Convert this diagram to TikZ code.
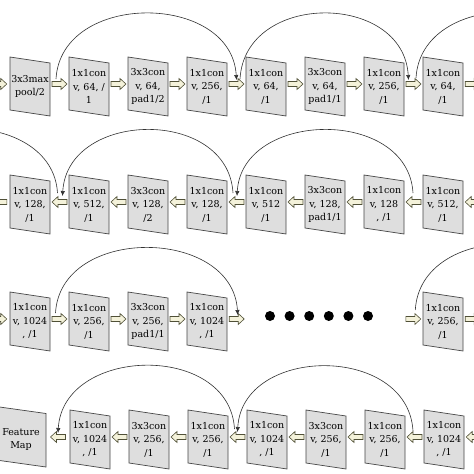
\documentclass[tikz,border=0pt]{standalone}
\usepackage{fontspec}
\setmainfont{DejaVu Serif}
\usetikzlibrary{calc,arrows.meta}
\definecolor{boxfill}{RGB}{222,222,222}
\definecolor{boxline}{RGB}{70,70,70}
\definecolor{harrline}{RGB}{80,80,55}
\definecolor{harrfill}{RGB}{244,242,218}
\definecolor{arcline}{RGB}{50,50,50}
\tikzset{
  boxtxt/.style={align=center, font=\fontsize{9.5}{13.5}\selectfont, inner sep=0pt,
    minimum width=40pt, minimum height=59pt, text=black},
  pshape/.style={fill=boxfill, draw=boxline, line width=0.7pt},
  harrst/.style={draw=harrline, fill=harrfill, line width=0.6pt, line join=miter},
  skip/.style={draw=arcline, line width=0.6pt, -{Latex[length=5pt,width=4.5pt]}},
  skipopen/.style={draw=arcline, line width=0.6pt},
  bigdot/.style={circle, fill=black, inner sep=0pt, minimum size=10pt},
}
\newcommand\convbox[4]{%
  \draw[pshape] (#2,#3) -- ++(40,6) -- ++(0,53) -- ++(-40,-6) -- cycle;
  \node[boxtxt] (#1) at (#2+20,#3+29.5) {#4};
}
% hollow block arrow drawn at a named coordinate; #2 = 1 (right) or -1 (left)
\newcommand\hollow[2]{%
  \draw[harrst, shift={(#1)}, xscale=#2] (-7.5,-2.5) -- (1.5,-2.5) -- (1.5,-5.5)
    -- (7.5,0) -- (1.5,5.5) -- (1.5,2.5) -- (-7.5,2.5) -- cycle;
}
\begin{document}
\begin{tikzpicture}[x=1pt,y=-1pt]
\useasboundingbox (0,0) rectangle (474,474);
\clip (0,0) rectangle (474,474);
\fill[white] (0,0) rectangle (474,474);
% ---------- row 1 ----------
\convbox{b11}{10}{57}{3x3max\\pool/2}
\convbox{b12}{69}{57}{1x1con\\v, 64, /\\1}
\convbox{b13}{128}{57}{3x3con\\v, 64,\\pad1/2}
\convbox{b14}{187}{57}{1x1con\\v, 256,\\/1}
\convbox{b15}{246}{57}{1x1con\\v, 64,\\/1}
\convbox{b16}{305}{57}{3x3con\\v, 64,\\pad1/1}
\convbox{b17}{364}{57}{1x1con\\v, 256,\\/1}
\convbox{b18}{423}{57}{1x1con\\v, 64,\\/1}
\coordinate (a10) at ($(b11.west)+(-10.5,-2.5)$);
\foreach \i [evaluate=\i as \j using int(\i+1)] in {1,...,7}
  {\coordinate (a1\i) at ($(b1\i.east)!.5!(b1\j.west)+(0,-2.5)$);}
\coordinate (a18) at ($(b18.east)+(9.5,-2.5)$);
\foreach \i in {0,...,8} {\hollow{a1\i}{1}}
% ---------- row 2 ----------
\convbox{b21}{10}{175}{1x1con\\v, 128,\\/1}
\convbox{b22}{69}{175}{1x1con\\v, 512,\\/1}
\convbox{b23}{128}{175}{3x3con\\v, 128,\\/2}
\convbox{b24}{187}{175}{1x1con\\v, 128,\\/1}
\convbox{b25}{246}{175}{1x1con\\v, 512\\/1}
\convbox{b26}{305}{175}{3x3con\\v, 128,\\pad1/1}
\convbox{b27}{364}{175}{1x1con\\v, 128\\, /1}
\convbox{b28}{423}{175}{1x1con\\v, 512,\\/1}
\coordinate (a20) at ($(b21.west)+(-10.5,-2.5)$);
\foreach \i [evaluate=\i as \j using int(\i+1)] in {1,...,7}
  {\coordinate (a2\i) at ($(b2\i.east)!.5!(b2\j.west)+(0,-2.5)$);}
\coordinate (a28) at ($(b28.east)+(9.5,-2.5)$);
\foreach \i in {0,...,8} {\hollow{a2\i}{-1}}
% ---------- row 3 ----------
\convbox{b31}{10}{292}{1x1con\\v, 1024\\, /1}
\convbox{b32}{69}{292}{1x1con\\v, 256,\\/1}
\convbox{b33}{128}{292}{3x3con\\v, 256,\\pad1/1}
\convbox{b34}{187}{292}{1x1con\\v, 1024\\, /1}
\convbox{b38}{423}{292}{1x1con\\v, 256,\\/1}
\coordinate (a30) at ($(b31.west)+(-10.5,-2.5)$);
\foreach \i [evaluate=\i as \j using int(\i+1)] in {1,...,3}
  {\coordinate (a3\i) at ($(b3\i.east)!.5!(b3\j.west)+(0,-2.5)$);}
\coordinate (a34) at ($(b34.east)+(9.5,-2.5)$);
\coordinate (a37) at ($(b38.west)+(-9.5,-2.5)$);
\coordinate (a38) at ($(b38.east)+(9.5,-2.5)$);
\foreach \i in {0,1,2,3,4,7,8} {\hollow{a3\i}{1}}
\foreach \k in {0,...,5}
  {\node[bigdot] (d\k) at (270+19.6*\k,316) {};}
% ---------- row 4 ----------
\draw[pshape] (-4,406.5) -- (46,413.5) -- (46,467) -- (-4,460) -- cycle;
\node[boxtxt, minimum width=50pt] (fm) at (21,439.5) {Feature\\Map};
\convbox{b42}{70}{410}{1x1con\\v, 1024\\, /1}
\convbox{b43}{129}{410}{3x3con\\v, 256,\\/1}
\convbox{b44}{188}{410}{1x1con\\v, 256,\\/1}
\convbox{b45}{247}{410}{1x1con\\v, 1024\\, /1}
\convbox{b46}{306}{410}{3x3con\\v, 256,\\/1}
\convbox{b47}{365}{410}{1x1con\\v, 256,\\/1}
\convbox{b48}{424}{410}{1x1con\\v, 1024\\, /1}
\coordinate (a41) at ($(fm.east)!.5!(b42.west)+(0,-2.5)$);
\foreach \i [evaluate=\i as \j using int(\i+1)] in {2,...,7}
  {\coordinate (a4\i) at ($(b4\i.east)!.5!(b4\j.west)+(0,-2.5)$);}
\coordinate (a48) at ($(b48.east)+(9.5,-2.5)$);
\foreach \i in {1,...,8} {\hollow{a4\i}{-1}}
% ---------- skip arcs ----------
\coordinate (off1) at ($(a17)+(182.5,-6)$);
\coordinate (off2) at ($(a21)+(-182,-9)$);
\coordinate (off3) at ($(a37)+(182,-9)$);
\draw[skip] ($(a11)+(-3.5,-5)$) .. controls +(5,-88) and +(-5,-88) .. ($(a14)+(0,-4)$);
\draw[skip] ($(a14)+(3.5,-5)$) .. controls +(5,-88) and +(-5,-88) .. ($(a17)+(-5,-4)$);
\draw[skipopen] ($(a17)+(2.5,-6)$) .. controls +(5,-88) and +(-5,-88) .. (off1);
\draw[skip] ($(a27)+(-0.5,-9)$) .. controls +(-5,-86) and +(5,-86) .. ($(a24)+(0.5,-6)$);
\draw[skip] ($(a24)+(-3.5,-9)$) .. controls +(-5,-86) and +(5,-86) .. ($(a21)+(3,-6)$);
\draw[skipopen] ($(a21)+(-2,-9)$) .. controls +(-5,-86) and +(5,-86) .. (off2);
\draw[skip] ($(a31)+(-4,-6)$) .. controls +(5,-88) and +(-5,-88) .. ($(a34)+(1,-4)$);
\draw[skipopen] ($(a37)+(2,-9)$) .. controls +(5,-88) and +(-5,-88) .. (off3);
\draw[skip] ($(a47)+(-1.5,-6)$) .. controls +(-5,-87) and +(5,-87) .. ($(a44)+(0,-5)$);
\draw[skip] ($(a44)+(-3,-8)$) .. controls +(-5,-87) and +(5,-87) .. ($(a41)+(0,-4)$);
\end{tikzpicture}
\end{document}
